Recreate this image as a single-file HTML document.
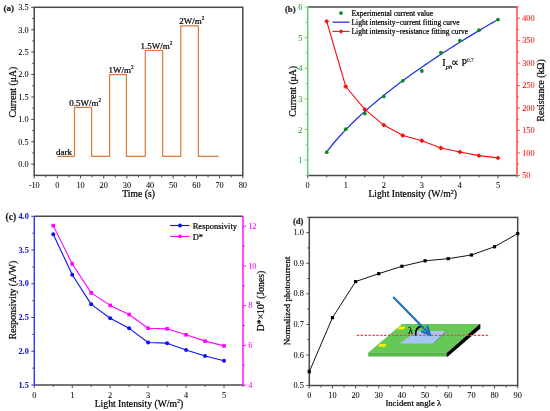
<!DOCTYPE html>
<html><head><meta charset="utf-8"><style>
html,body{margin:0;padding:0;background:#fff;}
svg{display:block;filter:blur(0.3px);}
text{font-family:"Liberation Serif", "Times New Roman", serif;stroke-width:0.22px;}
</style></head><body>
<svg width="550" height="411" viewBox="0 0 550 411">
<line x1="34.2" y1="175.4" x2="34.2" y2="178.4" stroke="#4a4a4a" stroke-width="1" />
<text x="34.2" y="188" font-size="8.3" text-anchor="middle" fill="#000" stroke="#000" style="stroke-width:0.05px" >-10</text>
<line x1="45.79" y1="175.4" x2="45.79" y2="177.4" stroke="#4a4a4a" stroke-width="1" />
<line x1="57.38" y1="175.4" x2="57.38" y2="178.4" stroke="#4a4a4a" stroke-width="1" />
<text x="57.38" y="188" font-size="8.3" text-anchor="middle" fill="#000" stroke="#000" style="stroke-width:0.05px" >0</text>
<line x1="68.97" y1="175.4" x2="68.97" y2="177.4" stroke="#4a4a4a" stroke-width="1" />
<line x1="80.56" y1="175.4" x2="80.56" y2="178.4" stroke="#4a4a4a" stroke-width="1" />
<text x="80.56" y="188" font-size="8.3" text-anchor="middle" fill="#000" stroke="#000" style="stroke-width:0.05px" >10</text>
<line x1="92.14" y1="175.4" x2="92.14" y2="177.4" stroke="#4a4a4a" stroke-width="1" />
<line x1="103.73" y1="175.4" x2="103.73" y2="178.4" stroke="#4a4a4a" stroke-width="1" />
<text x="103.73" y="188" font-size="8.3" text-anchor="middle" fill="#000" stroke="#000" style="stroke-width:0.05px" >20</text>
<line x1="115.32" y1="175.4" x2="115.32" y2="177.4" stroke="#4a4a4a" stroke-width="1" />
<line x1="126.91" y1="175.4" x2="126.91" y2="178.4" stroke="#4a4a4a" stroke-width="1" />
<text x="126.91" y="188" font-size="8.3" text-anchor="middle" fill="#000" stroke="#000" style="stroke-width:0.05px" >30</text>
<line x1="138.5" y1="175.4" x2="138.5" y2="177.4" stroke="#4a4a4a" stroke-width="1" />
<line x1="150.09" y1="175.4" x2="150.09" y2="178.4" stroke="#4a4a4a" stroke-width="1" />
<text x="150.09" y="188" font-size="8.3" text-anchor="middle" fill="#000" stroke="#000" style="stroke-width:0.05px" >40</text>
<line x1="161.68" y1="175.4" x2="161.68" y2="177.4" stroke="#4a4a4a" stroke-width="1" />
<line x1="173.27" y1="175.4" x2="173.27" y2="178.4" stroke="#4a4a4a" stroke-width="1" />
<text x="173.27" y="188" font-size="8.3" text-anchor="middle" fill="#000" stroke="#000" style="stroke-width:0.05px" >50</text>
<line x1="184.86" y1="175.4" x2="184.86" y2="177.4" stroke="#4a4a4a" stroke-width="1" />
<line x1="196.44" y1="175.4" x2="196.44" y2="178.4" stroke="#4a4a4a" stroke-width="1" />
<text x="196.44" y="188" font-size="8.3" text-anchor="middle" fill="#000" stroke="#000" style="stroke-width:0.05px" >60</text>
<line x1="208.03" y1="175.4" x2="208.03" y2="177.4" stroke="#4a4a4a" stroke-width="1" />
<line x1="219.62" y1="175.4" x2="219.62" y2="178.4" stroke="#4a4a4a" stroke-width="1" />
<text x="219.62" y="188" font-size="8.3" text-anchor="middle" fill="#000" stroke="#000" style="stroke-width:0.05px" >70</text>
<line x1="231.21" y1="175.4" x2="231.21" y2="177.4" stroke="#4a4a4a" stroke-width="1" />
<line x1="242.8" y1="175.4" x2="242.8" y2="178.4" stroke="#4a4a4a" stroke-width="1" />
<text x="242.8" y="188" font-size="8.3" text-anchor="middle" fill="#000" stroke="#000" style="stroke-width:0.05px" >80</text>
<line x1="31.2" y1="164.19" x2="34.2" y2="164.19" stroke="#4a4a4a" stroke-width="1" />
<text x="28.7" y="166.99" font-size="8.3" text-anchor="end" fill="#000" stroke="#000" style="stroke-width:0.05px" >0.0</text>
<line x1="32.2" y1="152.99" x2="34.2" y2="152.99" stroke="#4a4a4a" stroke-width="1" />
<line x1="31.2" y1="141.78" x2="34.2" y2="141.78" stroke="#4a4a4a" stroke-width="1" />
<text x="28.7" y="144.58" font-size="8.3" text-anchor="end" fill="#000" stroke="#000" style="stroke-width:0.05px" >0.5</text>
<line x1="32.2" y1="130.57" x2="34.2" y2="130.57" stroke="#4a4a4a" stroke-width="1" />
<line x1="31.2" y1="119.37" x2="34.2" y2="119.37" stroke="#4a4a4a" stroke-width="1" />
<text x="28.7" y="122.17" font-size="8.3" text-anchor="end" fill="#000" stroke="#000" style="stroke-width:0.05px" >1.0</text>
<line x1="32.2" y1="108.16" x2="34.2" y2="108.16" stroke="#4a4a4a" stroke-width="1" />
<line x1="31.2" y1="96.95" x2="34.2" y2="96.95" stroke="#4a4a4a" stroke-width="1" />
<text x="28.7" y="99.75" font-size="8.3" text-anchor="end" fill="#000" stroke="#000" style="stroke-width:0.05px" >1.5</text>
<line x1="32.2" y1="85.75" x2="34.2" y2="85.75" stroke="#4a4a4a" stroke-width="1" />
<line x1="31.2" y1="74.54" x2="34.2" y2="74.54" stroke="#4a4a4a" stroke-width="1" />
<text x="28.7" y="77.34" font-size="8.3" text-anchor="end" fill="#000" stroke="#000" style="stroke-width:0.05px" >2.0</text>
<line x1="32.2" y1="63.33" x2="34.2" y2="63.33" stroke="#4a4a4a" stroke-width="1" />
<line x1="31.2" y1="52.13" x2="34.2" y2="52.13" stroke="#4a4a4a" stroke-width="1" />
<text x="28.7" y="54.93" font-size="8.3" text-anchor="end" fill="#000" stroke="#000" style="stroke-width:0.05px" >2.5</text>
<line x1="32.2" y1="40.92" x2="34.2" y2="40.92" stroke="#4a4a4a" stroke-width="1" />
<line x1="31.2" y1="29.71" x2="34.2" y2="29.71" stroke="#4a4a4a" stroke-width="1" />
<text x="28.7" y="32.51" font-size="8.3" text-anchor="end" fill="#000" stroke="#000" style="stroke-width:0.05px" >3.0</text>
<line x1="32.2" y1="18.51" x2="34.2" y2="18.51" stroke="#4a4a4a" stroke-width="1" />
<line x1="31.2" y1="7.3" x2="34.2" y2="7.3" stroke="#4a4a4a" stroke-width="1" />
<text x="28.7" y="10.1" font-size="8.3" text-anchor="end" fill="#000" stroke="#000" style="stroke-width:0.05px" >3.5</text>
<rect x="34.2" y="7.3" width="208.6" height="168.1" fill="none" stroke="#4a4a4a" stroke-width="1.5"/>
<polyline points="57.38,156.3 74.51,156.3 74.51,107.4 91.59,107.4 91.59,156.3 109.6,156.3 109.6,74.54 126.4,74.54 126.4,156.3 145.29,156.3 145.29,50.51 162.7,50.51 162.7,156.3 180.78,156.3 180.78,25.81 198.39,25.81 198.39,156.3 218.7,156.3" fill="none" stroke="#d97a38" stroke-width="1.2" stroke-linejoin="round" stroke-linejoin="miter"/>
<text x="56" y="154.7" font-size="9" text-anchor="start" fill="#000" stroke="#000" >dark</text>
<text stroke="#000" x="69.3" y="106.3" font-size="9">0.5W/m<tspan font-size="5.2" dy="-4">2</tspan></text>
<text stroke="#000" x="108.6" y="73.4" font-size="9">1W/m<tspan font-size="5.2" dy="-4">2</tspan></text>
<text stroke="#000" x="140.5" y="49.4" font-size="9">1.5W/m<tspan font-size="5.2" dy="-4">2</tspan></text>
<text stroke="#000" x="179.2" y="24.2" font-size="9">2W/m<tspan font-size="5.2" dy="-4">2</tspan></text>
<text x="138.5" y="197.2" font-size="9.7" text-anchor="middle" fill="#000" stroke="#000" >Time (s)</text>
<text stroke="#000" transform="translate(15.6,92.2) rotate(-90)" font-size="9.7" text-anchor="middle">Current (μA)</text>
<text x="3.6" y="11.2" font-size="9" text-anchor="start" fill="#222" stroke="#222" font-weight="bold">(a)</text>
<line x1="307.7" y1="7" x2="517" y2="7" stroke="#4a4a4a" stroke-width="1.5" />
<line x1="307.7" y1="175.4" x2="517" y2="175.4" stroke="#4a4a4a" stroke-width="1.5" />
<line x1="307.7" y1="175.4" x2="307.7" y2="178.4" stroke="#4a4a4a" stroke-width="1" />
<text x="307.7" y="188" font-size="8.3" text-anchor="middle" fill="#000" stroke="#000" style="stroke-width:0.05px" >0</text>
<line x1="326.73" y1="175.4" x2="326.73" y2="177.4" stroke="#4a4a4a" stroke-width="1" />
<line x1="345.75" y1="175.4" x2="345.75" y2="178.4" stroke="#4a4a4a" stroke-width="1" />
<text x="345.75" y="188" font-size="8.3" text-anchor="middle" fill="#000" stroke="#000" style="stroke-width:0.05px" >1</text>
<line x1="364.78" y1="175.4" x2="364.78" y2="177.4" stroke="#4a4a4a" stroke-width="1" />
<line x1="383.81" y1="175.4" x2="383.81" y2="178.4" stroke="#4a4a4a" stroke-width="1" />
<text x="383.81" y="188" font-size="8.3" text-anchor="middle" fill="#000" stroke="#000" style="stroke-width:0.05px" >2</text>
<line x1="402.84" y1="175.4" x2="402.84" y2="177.4" stroke="#4a4a4a" stroke-width="1" />
<line x1="421.86" y1="175.4" x2="421.86" y2="178.4" stroke="#4a4a4a" stroke-width="1" />
<text x="421.86" y="188" font-size="8.3" text-anchor="middle" fill="#000" stroke="#000" style="stroke-width:0.05px" >3</text>
<line x1="440.89" y1="175.4" x2="440.89" y2="177.4" stroke="#4a4a4a" stroke-width="1" />
<line x1="459.92" y1="175.4" x2="459.92" y2="178.4" stroke="#4a4a4a" stroke-width="1" />
<text x="459.92" y="188" font-size="8.3" text-anchor="middle" fill="#000" stroke="#000" style="stroke-width:0.05px" >4</text>
<line x1="478.95" y1="175.4" x2="478.95" y2="177.4" stroke="#4a4a4a" stroke-width="1" />
<line x1="497.97" y1="175.4" x2="497.97" y2="178.4" stroke="#4a4a4a" stroke-width="1" />
<text x="497.97" y="188" font-size="8.3" text-anchor="middle" fill="#000" stroke="#000" style="stroke-width:0.05px" >5</text>
<line x1="517" y1="175.4" x2="517" y2="177.4" stroke="#4a4a4a" stroke-width="1" />
<line x1="305.7" y1="175.4" x2="307.7" y2="175.4" stroke="#6fcd6f" stroke-width="1" />
<line x1="304.7" y1="160.09" x2="307.7" y2="160.09" stroke="#6fcd6f" stroke-width="1" />
<text x="302.5" y="163.29" font-size="8.3" text-anchor="end" fill="#22a53c" stroke="#22a53c" style="stroke-width:0.05px" >1</text>
<line x1="305.7" y1="144.78" x2="307.7" y2="144.78" stroke="#6fcd6f" stroke-width="1" />
<line x1="304.7" y1="129.47" x2="307.7" y2="129.47" stroke="#6fcd6f" stroke-width="1" />
<text x="302.5" y="132.67" font-size="8.3" text-anchor="end" fill="#22a53c" stroke="#22a53c" style="stroke-width:0.05px" >2</text>
<line x1="305.7" y1="114.16" x2="307.7" y2="114.16" stroke="#6fcd6f" stroke-width="1" />
<line x1="304.7" y1="98.85" x2="307.7" y2="98.85" stroke="#6fcd6f" stroke-width="1" />
<text x="302.5" y="102.05" font-size="8.3" text-anchor="end" fill="#22a53c" stroke="#22a53c" style="stroke-width:0.05px" >3</text>
<line x1="305.7" y1="83.55" x2="307.7" y2="83.55" stroke="#6fcd6f" stroke-width="1" />
<line x1="304.7" y1="68.24" x2="307.7" y2="68.24" stroke="#6fcd6f" stroke-width="1" />
<text x="302.5" y="71.44" font-size="8.3" text-anchor="end" fill="#22a53c" stroke="#22a53c" style="stroke-width:0.05px" >4</text>
<line x1="305.7" y1="52.93" x2="307.7" y2="52.93" stroke="#6fcd6f" stroke-width="1" />
<line x1="304.7" y1="37.62" x2="307.7" y2="37.62" stroke="#6fcd6f" stroke-width="1" />
<text x="302.5" y="40.82" font-size="8.3" text-anchor="end" fill="#22a53c" stroke="#22a53c" style="stroke-width:0.05px" >5</text>
<line x1="305.7" y1="22.31" x2="307.7" y2="22.31" stroke="#6fcd6f" stroke-width="1" />
<line x1="304.7" y1="7" x2="307.7" y2="7" stroke="#6fcd6f" stroke-width="1" />
<text x="302.5" y="10.2" font-size="8.3" text-anchor="end" fill="#22a53c" stroke="#22a53c" style="stroke-width:0.05px" >6</text>
<line x1="307.7" y1="7" x2="307.7" y2="176" stroke="#6fcd6f" stroke-width="1.6" />
<line x1="517" y1="175.4" x2="520" y2="175.4" stroke="#ff5050" stroke-width="1" />
<text x="522.2" y="178" font-size="8.3" text-anchor="start" fill="#ff0a0a" stroke="#ff0a0a" style="stroke-width:0.05px" >50</text>
<line x1="517" y1="164.17" x2="519" y2="164.17" stroke="#ff5050" stroke-width="1" />
<line x1="517" y1="152.95" x2="520" y2="152.95" stroke="#ff5050" stroke-width="1" />
<text x="522.2" y="155.55" font-size="8.3" text-anchor="start" fill="#ff0a0a" stroke="#ff0a0a" style="stroke-width:0.05px" >100</text>
<line x1="517" y1="141.72" x2="519" y2="141.72" stroke="#ff5050" stroke-width="1" />
<line x1="517" y1="130.49" x2="520" y2="130.49" stroke="#ff5050" stroke-width="1" />
<text x="522.2" y="133.09" font-size="8.3" text-anchor="start" fill="#ff0a0a" stroke="#ff0a0a" style="stroke-width:0.05px" >150</text>
<line x1="517" y1="119.27" x2="519" y2="119.27" stroke="#ff5050" stroke-width="1" />
<line x1="517" y1="108.04" x2="520" y2="108.04" stroke="#ff5050" stroke-width="1" />
<text x="522.2" y="110.64" font-size="8.3" text-anchor="start" fill="#ff0a0a" stroke="#ff0a0a" style="stroke-width:0.05px" >200</text>
<line x1="517" y1="96.81" x2="519" y2="96.81" stroke="#ff5050" stroke-width="1" />
<line x1="517" y1="85.59" x2="520" y2="85.59" stroke="#ff5050" stroke-width="1" />
<text x="522.2" y="88.19" font-size="8.3" text-anchor="start" fill="#ff0a0a" stroke="#ff0a0a" style="stroke-width:0.05px" >250</text>
<line x1="517" y1="74.36" x2="519" y2="74.36" stroke="#ff5050" stroke-width="1" />
<line x1="517" y1="63.13" x2="520" y2="63.13" stroke="#ff5050" stroke-width="1" />
<text x="522.2" y="65.73" font-size="8.3" text-anchor="start" fill="#ff0a0a" stroke="#ff0a0a" style="stroke-width:0.05px" >300</text>
<line x1="517" y1="51.91" x2="519" y2="51.91" stroke="#ff5050" stroke-width="1" />
<line x1="517" y1="40.68" x2="520" y2="40.68" stroke="#ff5050" stroke-width="1" />
<text x="522.2" y="43.28" font-size="8.3" text-anchor="start" fill="#ff0a0a" stroke="#ff0a0a" style="stroke-width:0.05px" >350</text>
<line x1="517" y1="29.45" x2="519" y2="29.45" stroke="#ff5050" stroke-width="1" />
<line x1="517" y1="18.23" x2="520" y2="18.23" stroke="#ff5050" stroke-width="1" />
<text x="522.2" y="20.83" font-size="8.3" text-anchor="start" fill="#ff0a0a" stroke="#ff0a0a" style="stroke-width:0.05px" >400</text>
<line x1="517" y1="7" x2="519" y2="7" stroke="#ff5050" stroke-width="1" />
<line x1="517" y1="7" x2="517" y2="176" stroke="#ff5050" stroke-width="1.6" />
<polyline points="326.73,151.89 329.63,148.1 332.53,144.49 335.43,141.03 338.34,137.71 341.24,134.5 344.14,131.39 347.04,128.37 349.95,125.43 352.85,122.57 355.75,119.77 358.65,117.04 361.56,114.36 364.46,111.73 367.36,109.16 370.26,106.63 373.17,104.14 376.07,101.7 378.97,99.29 381.87,96.92 384.78,94.58 387.68,92.27 390.58,90 393.48,87.75 396.39,85.54 399.29,83.34 402.19,81.18 405.09,79.04 408,76.92 410.9,74.83 413.8,72.75 416.7,70.7 419.61,68.67 422.51,66.66 425.41,64.66 428.31,62.69 431.22,60.73 434.12,58.79 437.02,56.86 439.92,54.95 442.83,53.06 445.73,51.18 448.63,49.32 451.53,47.47 454.44,45.63 457.34,43.81 460.24,42 463.14,40.2 466.05,38.42 468.95,36.65 471.85,34.89 474.75,33.14 477.66,31.4 480.56,29.67 483.46,27.96 486.36,26.25 489.27,24.55 492.17,22.87 495.07,21.19 497.97,19.53" fill="none" stroke="#2436d8" stroke-width="1.3" stroke-linejoin="round" />
<polyline points="326.73,21.37 345.75,86.48 364.78,109.39 383.81,125.1 402.84,135.43 421.86,140.82 440.89,148.01 459.92,152.05 478.95,155.64 497.97,157.89" fill="none" stroke="#ff0a0a" stroke-width="1.1" stroke-linejoin="round" />
<rect x="324.98" y="19.62" width="3.5" height="3.5" fill="#ff0a0a" transform="rotate(45 326.73 21.37)"/>
<rect x="344" y="84.73" width="3.5" height="3.5" fill="#ff0a0a" transform="rotate(45 345.75 86.48)"/>
<rect x="363.03" y="107.64" width="3.5" height="3.5" fill="#ff0a0a" transform="rotate(45 364.78 109.39)"/>
<rect x="382.06" y="123.35" width="3.5" height="3.5" fill="#ff0a0a" transform="rotate(45 383.81 125.1)"/>
<rect x="401.09" y="133.68" width="3.5" height="3.5" fill="#ff0a0a" transform="rotate(45 402.84 135.43)"/>
<rect x="420.11" y="139.07" width="3.5" height="3.5" fill="#ff0a0a" transform="rotate(45 421.86 140.82)"/>
<rect x="439.14" y="146.26" width="3.5" height="3.5" fill="#ff0a0a" transform="rotate(45 440.89 148.01)"/>
<rect x="458.17" y="150.3" width="3.5" height="3.5" fill="#ff0a0a" transform="rotate(45 459.92 152.05)"/>
<rect x="477.2" y="153.89" width="3.5" height="3.5" fill="#ff0a0a" transform="rotate(45 478.95 155.64)"/>
<rect x="496.22" y="156.14" width="3.5" height="3.5" fill="#ff0a0a" transform="rotate(45 497.97 157.89)"/>
<circle cx="326.73" cy="152.13" r="1.9" fill="#0f8a20"/>
<circle cx="345.75" cy="129.17" r="1.9" fill="#0f8a20"/>
<circle cx="364.78" cy="113.55" r="1.9" fill="#0f8a20"/>
<circle cx="383.81" cy="96.41" r="1.9" fill="#0f8a20"/>
<circle cx="402.84" cy="80.79" r="1.9" fill="#0f8a20"/>
<circle cx="421.86" cy="70.99" r="1.9" fill="#0f8a20"/>
<circle cx="440.89" cy="52.62" r="1.9" fill="#0f8a20"/>
<circle cx="459.92" cy="40.68" r="1.9" fill="#0f8a20"/>
<circle cx="478.95" cy="30.27" r="1.9" fill="#0f8a20"/>
<circle cx="497.97" cy="19.55" r="1.9" fill="#0f8a20"/>
<circle cx="341" cy="13.1" r="1.9" fill="#0f8a20"/>
<line x1="332.5" y1="22.2" x2="349.6" y2="22.2" stroke="#2436d8" stroke-width="1.3" />
<line x1="332.5" y1="31.4" x2="349.6" y2="31.4" stroke="#ff0a0a" stroke-width="1.1" />
<rect x="339.4" y="29.8" width="3.2" height="3.2" fill="#ff0a0a" transform="rotate(45 341 31.4)"/>
<text x="351.5" y="15.8" font-size="7.5" text-anchor="start" fill="#000" stroke="#000" >Experimental current value</text>
<text x="351.5" y="24.9" font-size="7.5" text-anchor="start" fill="#000" stroke="#000" >Light intensity−current fitting curve</text>
<text x="351.5" y="34" font-size="7.5" text-anchor="start" fill="#000" stroke="#000" >Light intensity−resistance fitting curve</text>
<text stroke="#000" x="442.3" y="65.8" font-size="10">I<tspan font-size="6.5" font-style="italic" dy="3.3">ph</tspan><tspan x="451.2" dy="-3.3" font-size="11">∝</tspan><tspan x="461.5">P</tspan><tspan font-size="5.4" dy="-4.2" style="stroke-width:0.08px">0.7</tspan></text>
<text stroke="#000" x="412.7" y="197.1" font-size="9.7" text-anchor="middle">Light Intensity (W/m<tspan font-size="6" dy="-3.5">2</tspan><tspan dy="3.5">)</tspan></text>
<text stroke="#000" transform="translate(296.2,91.3) rotate(-90)" font-size="9.7" text-anchor="middle">Current (μA)</text>
<text stroke="#000" transform="translate(543.5,90.4) rotate(-90)" font-size="9.7" text-anchor="middle">Resistance (kΩ)</text>
<text x="285" y="12" font-size="8.6" text-anchor="start" fill="#222" stroke="#222" font-weight="bold">(b)</text>
<line x1="34.3" y1="216.3" x2="243" y2="216.3" stroke="#4a4a4a" stroke-width="1.5" />
<line x1="34.3" y1="385" x2="243" y2="385" stroke="#4a4a4a" stroke-width="1.5" />
<line x1="34.3" y1="385" x2="34.3" y2="388" stroke="#4a4a4a" stroke-width="1" />
<text x="34.3" y="397.6" font-size="8.3" text-anchor="middle" fill="#000" stroke="#000" style="stroke-width:0.05px" >0</text>
<line x1="53.27" y1="385" x2="53.27" y2="387" stroke="#4a4a4a" stroke-width="1" />
<line x1="72.25" y1="385" x2="72.25" y2="388" stroke="#4a4a4a" stroke-width="1" />
<text x="72.25" y="397.6" font-size="8.3" text-anchor="middle" fill="#000" stroke="#000" style="stroke-width:0.05px" >1</text>
<line x1="91.22" y1="385" x2="91.22" y2="387" stroke="#4a4a4a" stroke-width="1" />
<line x1="110.19" y1="385" x2="110.19" y2="388" stroke="#4a4a4a" stroke-width="1" />
<text x="110.19" y="397.6" font-size="8.3" text-anchor="middle" fill="#000" stroke="#000" style="stroke-width:0.05px" >2</text>
<line x1="129.16" y1="385" x2="129.16" y2="387" stroke="#4a4a4a" stroke-width="1" />
<line x1="148.14" y1="385" x2="148.14" y2="388" stroke="#4a4a4a" stroke-width="1" />
<text x="148.14" y="397.6" font-size="8.3" text-anchor="middle" fill="#000" stroke="#000" style="stroke-width:0.05px" >3</text>
<line x1="167.11" y1="385" x2="167.11" y2="387" stroke="#4a4a4a" stroke-width="1" />
<line x1="186.08" y1="385" x2="186.08" y2="388" stroke="#4a4a4a" stroke-width="1" />
<text x="186.08" y="397.6" font-size="8.3" text-anchor="middle" fill="#000" stroke="#000" style="stroke-width:0.05px" >4</text>
<line x1="205.05" y1="385" x2="205.05" y2="387" stroke="#4a4a4a" stroke-width="1" />
<line x1="224.03" y1="385" x2="224.03" y2="388" stroke="#4a4a4a" stroke-width="1" />
<text x="224.03" y="397.6" font-size="8.3" text-anchor="middle" fill="#000" stroke="#000" style="stroke-width:0.05px" >5</text>
<line x1="243" y1="385" x2="243" y2="387" stroke="#4a4a4a" stroke-width="1" />
<line x1="31.3" y1="385" x2="34.3" y2="385" stroke="#3030ff" stroke-width="1" />
<text x="28.8" y="387.6" font-size="8.3" text-anchor="end" fill="#1010f0" stroke="#1010f0" style="stroke-width:0.05px" font-weight="bold">1.5</text>
<line x1="32.3" y1="368.13" x2="34.3" y2="368.13" stroke="#3030ff" stroke-width="1" />
<line x1="31.3" y1="351.26" x2="34.3" y2="351.26" stroke="#3030ff" stroke-width="1" />
<text x="28.8" y="353.86" font-size="8.3" text-anchor="end" fill="#1010f0" stroke="#1010f0" style="stroke-width:0.05px" font-weight="bold">2.0</text>
<line x1="32.3" y1="334.39" x2="34.3" y2="334.39" stroke="#3030ff" stroke-width="1" />
<line x1="31.3" y1="317.52" x2="34.3" y2="317.52" stroke="#3030ff" stroke-width="1" />
<text x="28.8" y="320.12" font-size="8.3" text-anchor="end" fill="#1010f0" stroke="#1010f0" style="stroke-width:0.05px" font-weight="bold">2.5</text>
<line x1="32.3" y1="300.65" x2="34.3" y2="300.65" stroke="#3030ff" stroke-width="1" />
<line x1="31.3" y1="283.78" x2="34.3" y2="283.78" stroke="#3030ff" stroke-width="1" />
<text x="28.8" y="286.38" font-size="8.3" text-anchor="end" fill="#1010f0" stroke="#1010f0" style="stroke-width:0.05px" font-weight="bold">3.0</text>
<line x1="32.3" y1="266.91" x2="34.3" y2="266.91" stroke="#3030ff" stroke-width="1" />
<line x1="31.3" y1="250.04" x2="34.3" y2="250.04" stroke="#3030ff" stroke-width="1" />
<text x="28.8" y="252.64" font-size="8.3" text-anchor="end" fill="#1010f0" stroke="#1010f0" style="stroke-width:0.05px" font-weight="bold">3.5</text>
<line x1="32.3" y1="233.17" x2="34.3" y2="233.17" stroke="#3030ff" stroke-width="1" />
<line x1="31.3" y1="216.3" x2="34.3" y2="216.3" stroke="#3030ff" stroke-width="1" />
<text x="28.8" y="218.9" font-size="8.3" text-anchor="end" fill="#1010f0" stroke="#1010f0" style="stroke-width:0.05px" font-weight="bold">4.0</text>
<line x1="34.3" y1="216.3" x2="34.3" y2="385.6" stroke="#3030ff" stroke-width="1.4" />
<line x1="243" y1="385" x2="246" y2="385" stroke="#ff00ff" stroke-width="1" />
<text x="248.2" y="387.8" font-size="8.3" text-anchor="start" fill="#ff00ff" stroke="#ff00ff" style="stroke-width:0.05px" >4</text>
<line x1="243" y1="365.15" x2="245" y2="365.15" stroke="#ff00ff" stroke-width="1" />
<line x1="243" y1="345.31" x2="246" y2="345.31" stroke="#ff00ff" stroke-width="1" />
<text x="248.2" y="348.11" font-size="8.3" text-anchor="start" fill="#ff00ff" stroke="#ff00ff" style="stroke-width:0.05px" >6</text>
<line x1="243" y1="325.46" x2="245" y2="325.46" stroke="#ff00ff" stroke-width="1" />
<line x1="243" y1="305.61" x2="246" y2="305.61" stroke="#ff00ff" stroke-width="1" />
<text x="248.2" y="308.41" font-size="8.3" text-anchor="start" fill="#ff00ff" stroke="#ff00ff" style="stroke-width:0.05px" >8</text>
<line x1="243" y1="285.76" x2="245" y2="285.76" stroke="#ff00ff" stroke-width="1" />
<line x1="243" y1="265.92" x2="246" y2="265.92" stroke="#ff00ff" stroke-width="1" />
<text x="248.2" y="268.72" font-size="8.3" text-anchor="start" fill="#ff00ff" stroke="#ff00ff" style="stroke-width:0.05px" >10</text>
<line x1="243" y1="246.07" x2="245" y2="246.07" stroke="#ff00ff" stroke-width="1" />
<line x1="243" y1="226.22" x2="246" y2="226.22" stroke="#ff00ff" stroke-width="1" />
<text x="248.2" y="229.02" font-size="8.3" text-anchor="start" fill="#ff00ff" stroke="#ff00ff" style="stroke-width:0.05px" >12</text>
<line x1="243" y1="216.3" x2="243" y2="385.6" stroke="#ff00ff" stroke-width="1.4" />
<polyline points="53.27,225.63 72.25,263.93 91.22,292.91 110.19,305.41 129.16,314.54 148.14,328.24 167.11,328.83 186.08,334.79 205.05,341.14 224.03,345.9" fill="none" stroke="#ff00ff" stroke-width="1.1" stroke-linejoin="round" />
<polyline points="53.27,234.18 72.25,274.74 91.22,304.36 110.19,318.19 129.16,328.32 148.14,342.49 167.11,343.16 186.08,349.91 205.05,355.98 224.03,360.71" fill="none" stroke="#1010f0" stroke-width="1.1" stroke-linejoin="round" />
<rect x="51.47" y="223.83" width="3.6" height="3.6" fill="#ff00ff"/>
<rect x="70.45" y="262.13" width="3.6" height="3.6" fill="#ff00ff"/>
<rect x="89.42" y="291.11" width="3.6" height="3.6" fill="#ff00ff"/>
<rect x="108.39" y="303.61" width="3.6" height="3.6" fill="#ff00ff"/>
<rect x="127.36" y="312.74" width="3.6" height="3.6" fill="#ff00ff"/>
<rect x="146.34" y="326.44" width="3.6" height="3.6" fill="#ff00ff"/>
<rect x="165.31" y="327.03" width="3.6" height="3.6" fill="#ff00ff"/>
<rect x="184.28" y="332.99" width="3.6" height="3.6" fill="#ff00ff"/>
<rect x="203.25" y="339.34" width="3.6" height="3.6" fill="#ff00ff"/>
<rect x="222.23" y="344.1" width="3.6" height="3.6" fill="#ff00ff"/>
<circle cx="53.27" cy="234.18" r="2" fill="#1010f0"/>
<circle cx="72.25" cy="274.74" r="2" fill="#1010f0"/>
<circle cx="91.22" cy="304.36" r="2" fill="#1010f0"/>
<circle cx="110.19" cy="318.19" r="2" fill="#1010f0"/>
<circle cx="129.16" cy="328.32" r="2" fill="#1010f0"/>
<circle cx="148.14" cy="342.49" r="2" fill="#1010f0"/>
<circle cx="167.11" cy="343.16" r="2" fill="#1010f0"/>
<circle cx="186.08" cy="349.91" r="2" fill="#1010f0"/>
<circle cx="205.05" cy="355.98" r="2" fill="#1010f0"/>
<circle cx="224.03" cy="360.71" r="2" fill="#1010f0"/>
<line x1="170" y1="225.5" x2="189.6" y2="225.5" stroke="#1010f0" stroke-width="1.1" />
<circle cx="180" cy="225.5" r="2" fill="#1010f0"/>
<line x1="170" y1="236.4" x2="189.6" y2="236.4" stroke="#ff00ff" stroke-width="1.1" />
<rect x="178.4" y="234.8" width="3.2" height="3.2" fill="#ff00ff"/>
<text x="192.7" y="228.6" font-size="8.5" text-anchor="start" fill="#000" stroke="#000" >Responsivity</text>
<text x="192.7" y="239.5" font-size="8.5" text-anchor="start" fill="#000" stroke="#000" >D*</text>
<text stroke="#000" x="139" y="406.7" font-size="9.7" text-anchor="middle">Light Intensity (W/m<tspan font-size="6" dy="-3.5">2</tspan><tspan dy="3.5">)</tspan></text>
<text stroke="#000" transform="translate(15.8,300) rotate(-90)" font-size="9.7" text-anchor="middle">Responsivity (A/W)</text>
<text stroke="#000" transform="translate(263.6,301) rotate(-90)" font-size="9.7" text-anchor="middle">D*×10<tspan font-size="6" dy="-3.5">6</tspan><tspan dy="3.5"> (Jones)</tspan></text>
<text x="5.6" y="220.2" font-size="9.5" text-anchor="start" fill="#222" stroke="#222" font-weight="bold">(c)</text>
<line x1="309.3" y1="385.5" x2="309.3" y2="388.5" stroke="#4a4a4a" stroke-width="1" />
<text x="309.3" y="398.1" font-size="8.3" text-anchor="middle" fill="#000" stroke="#000" style="stroke-width:0.05px" >0</text>
<line x1="320.88" y1="385.5" x2="320.88" y2="387.5" stroke="#4a4a4a" stroke-width="1" />
<line x1="332.46" y1="385.5" x2="332.46" y2="388.5" stroke="#4a4a4a" stroke-width="1" />
<text x="332.46" y="398.1" font-size="8.3" text-anchor="middle" fill="#000" stroke="#000" style="stroke-width:0.05px" >10</text>
<line x1="344.03" y1="385.5" x2="344.03" y2="387.5" stroke="#4a4a4a" stroke-width="1" />
<line x1="355.61" y1="385.5" x2="355.61" y2="388.5" stroke="#4a4a4a" stroke-width="1" />
<text x="355.61" y="398.1" font-size="8.3" text-anchor="middle" fill="#000" stroke="#000" style="stroke-width:0.05px" >20</text>
<line x1="367.19" y1="385.5" x2="367.19" y2="387.5" stroke="#4a4a4a" stroke-width="1" />
<line x1="378.77" y1="385.5" x2="378.77" y2="388.5" stroke="#4a4a4a" stroke-width="1" />
<text x="378.77" y="398.1" font-size="8.3" text-anchor="middle" fill="#000" stroke="#000" style="stroke-width:0.05px" >30</text>
<line x1="390.34" y1="385.5" x2="390.34" y2="387.5" stroke="#4a4a4a" stroke-width="1" />
<line x1="401.92" y1="385.5" x2="401.92" y2="388.5" stroke="#4a4a4a" stroke-width="1" />
<text x="401.92" y="398.1" font-size="8.3" text-anchor="middle" fill="#000" stroke="#000" style="stroke-width:0.05px" >40</text>
<line x1="413.5" y1="385.5" x2="413.5" y2="387.5" stroke="#4a4a4a" stroke-width="1" />
<line x1="425.08" y1="385.5" x2="425.08" y2="388.5" stroke="#4a4a4a" stroke-width="1" />
<text x="425.08" y="398.1" font-size="8.3" text-anchor="middle" fill="#000" stroke="#000" style="stroke-width:0.05px" >50</text>
<line x1="436.66" y1="385.5" x2="436.66" y2="387.5" stroke="#4a4a4a" stroke-width="1" />
<line x1="448.23" y1="385.5" x2="448.23" y2="388.5" stroke="#4a4a4a" stroke-width="1" />
<text x="448.23" y="398.1" font-size="8.3" text-anchor="middle" fill="#000" stroke="#000" style="stroke-width:0.05px" >60</text>
<line x1="459.81" y1="385.5" x2="459.81" y2="387.5" stroke="#4a4a4a" stroke-width="1" />
<line x1="471.39" y1="385.5" x2="471.39" y2="388.5" stroke="#4a4a4a" stroke-width="1" />
<text x="471.39" y="398.1" font-size="8.3" text-anchor="middle" fill="#000" stroke="#000" style="stroke-width:0.05px" >70</text>
<line x1="482.97" y1="385.5" x2="482.97" y2="387.5" stroke="#4a4a4a" stroke-width="1" />
<line x1="494.54" y1="385.5" x2="494.54" y2="388.5" stroke="#4a4a4a" stroke-width="1" />
<text x="494.54" y="398.1" font-size="8.3" text-anchor="middle" fill="#000" stroke="#000" style="stroke-width:0.05px" >80</text>
<line x1="506.12" y1="385.5" x2="506.12" y2="387.5" stroke="#4a4a4a" stroke-width="1" />
<line x1="517.7" y1="385.5" x2="517.7" y2="388.5" stroke="#4a4a4a" stroke-width="1" />
<text x="517.7" y="398.1" font-size="8.3" text-anchor="middle" fill="#000" stroke="#000" style="stroke-width:0.05px" >90</text>
<line x1="306.3" y1="385.5" x2="309.3" y2="385.5" stroke="#4a4a4a" stroke-width="1" />
<text x="303.8" y="388.1" font-size="8.3" text-anchor="end" fill="#000" stroke="#000" style="stroke-width:0.05px" >0.5</text>
<line x1="307.3" y1="370.22" x2="309.3" y2="370.22" stroke="#4a4a4a" stroke-width="1" />
<line x1="306.3" y1="354.94" x2="309.3" y2="354.94" stroke="#4a4a4a" stroke-width="1" />
<text x="303.8" y="357.54" font-size="8.3" text-anchor="end" fill="#000" stroke="#000" style="stroke-width:0.05px" >0.6</text>
<line x1="307.3" y1="339.65" x2="309.3" y2="339.65" stroke="#4a4a4a" stroke-width="1" />
<line x1="306.3" y1="324.37" x2="309.3" y2="324.37" stroke="#4a4a4a" stroke-width="1" />
<text x="303.8" y="326.97" font-size="8.3" text-anchor="end" fill="#000" stroke="#000" style="stroke-width:0.05px" >0.7</text>
<line x1="307.3" y1="309.09" x2="309.3" y2="309.09" stroke="#4a4a4a" stroke-width="1" />
<line x1="306.3" y1="293.81" x2="309.3" y2="293.81" stroke="#4a4a4a" stroke-width="1" />
<text x="303.8" y="296.41" font-size="8.3" text-anchor="end" fill="#000" stroke="#000" style="stroke-width:0.05px" >0.8</text>
<line x1="307.3" y1="278.53" x2="309.3" y2="278.53" stroke="#4a4a4a" stroke-width="1" />
<line x1="306.3" y1="263.25" x2="309.3" y2="263.25" stroke="#4a4a4a" stroke-width="1" />
<text x="303.8" y="265.85" font-size="8.3" text-anchor="end" fill="#000" stroke="#000" style="stroke-width:0.05px" >0.9</text>
<line x1="307.3" y1="247.96" x2="309.3" y2="247.96" stroke="#4a4a4a" stroke-width="1" />
<line x1="306.3" y1="232.68" x2="309.3" y2="232.68" stroke="#4a4a4a" stroke-width="1" />
<text x="303.8" y="235.28" font-size="8.3" text-anchor="end" fill="#000" stroke="#000" style="stroke-width:0.05px" >1.0</text>
<line x1="307.3" y1="217.4" x2="309.3" y2="217.4" stroke="#4a4a4a" stroke-width="1" />
<rect x="309.3" y="217.4" width="208.4" height="168.1" fill="none" stroke="#4a4a4a" stroke-width="1.5"/>
<polyline points="309.3,371.75 332.46,317.65 355.61,281.58 378.77,273.64 401.92,266.3 425.08,260.8 448.23,258.66 471.39,254.99 494.54,246.74 517.7,233.6" fill="none" stroke="#111" stroke-width="1.0" stroke-linejoin="round" />
<rect x="307.7" y="370.15" width="3.2" height="3.2" fill="#000"/>
<rect x="330.86" y="316.05" width="3.2" height="3.2" fill="#000"/>
<rect x="354.01" y="279.98" width="3.2" height="3.2" fill="#000"/>
<rect x="377.17" y="272.04" width="3.2" height="3.2" fill="#000"/>
<rect x="400.32" y="264.7" width="3.2" height="3.2" fill="#000"/>
<rect x="423.48" y="259.2" width="3.2" height="3.2" fill="#000"/>
<rect x="446.63" y="257.06" width="3.2" height="3.2" fill="#000"/>
<rect x="469.79" y="253.39" width="3.2" height="3.2" fill="#000"/>
<rect x="492.94" y="245.14" width="3.2" height="3.2" fill="#000"/>
<rect x="516.1" y="232" width="3.2" height="3.2" fill="#000"/>
<polygon points="402,324.1 479.8,324.1 446.7,352.8 368.2,352.8" fill="#66c957"/>
<polygon points="368.2,352.6 446.9,352.6 446.9,356.6 368.2,356.6" fill="#56b849"/>
<polygon points="446.7,352.9 479.8,324.1 480.4,324.6 480.4,328.6 447.2,357 446.7,356.6" fill="#000"/>
<polygon points="416.5,331.1 446.2,331.1 433.8,343.4 399.9,343.4" fill="#a8c6f2"/>
<line x1="446.2" y1="331.1" x2="433.8" y2="343.4" stroke="#556" stroke-width="0.6" />
<polygon points="399,326.6 405.5,326.6 404,329.4 397.5,329.4" fill="#ffee00"/>
<polygon points="379.7,344 386.4,344 384.9,346.8 378.2,346.8" fill="#ffee00"/>
<line x1="356.8" y1="335.4" x2="488.3" y2="335.4" stroke="#ff3a4a" stroke-width="1.3" stroke-dasharray="2.4 1.5"/>
<path d="M415.5,335.4 C415.5,330.5 417.6,326.6 421.8,326.2" fill="none" stroke="#000" stroke-width="1.8"/>
<text x="408.3" y="334.2" font-size="9.6" text-anchor="start" fill="#000" stroke="#000" >λ</text>
<line x1="393.2" y1="297" x2="429.4" y2="333.9" stroke="#1670c0" stroke-width="2.1" />
<polyline points="427.3,326.5 429.8,334.5 422.2,331.6" fill="none" stroke="#1670c0" stroke-width="2.4" stroke-linejoin="miter" stroke-linecap="round"/>
<text x="413.3" y="406" font-size="8.7" text-anchor="middle" fill="#000" stroke="#000" >Incident angle λ</text>
<text stroke="#000" transform="translate(290.4,301) rotate(-90)" font-size="8.8" text-anchor="middle">Normalized photocurrent</text>
<text x="292.9" y="223.6" font-size="8.6" text-anchor="start" fill="#222" stroke="#222" font-weight="bold">(d)</text>
</svg>
</body></html>
